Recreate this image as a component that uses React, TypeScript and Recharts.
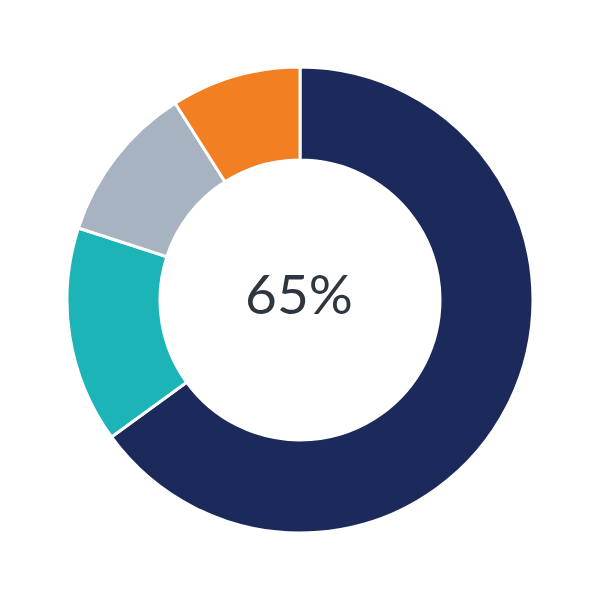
import React from "react";
import { PieChart, Pie, Cell } from "recharts";

const categories = ["A", "B", "C", "D"];
const values = [65, 15, 11, 9];
const colors = ["#1B2A5A", "#1CB4B7", "#A8B3C1", "#F27F22"];
const centerLabel = "65%";

const data = categories.map((name, i) => ({ name, value: values[i] }));

export default function App() {
  return (
    <div style={{ position: "absolute", left: 0, top: 0, width: 600, height: 600, background: "#fff" }}>
      <PieChart width={600} height={600}>
        <Pie
          data={data}
          dataKey="value"
          nameKey="name"
          cx={295}
          cy={295}
          innerRadius={140}
          outerRadius={233}
          startAngle={90}
          endAngle={-270}
          stroke="#ffffff"
          strokeWidth={3}
          isAnimationActive={false}
        >
          {data.map((d, i) => (
            <Cell key={d.name} fill={colors[i]} />
          ))}
        </Pie>
        <text
          x={299}
          y={293}
          textAnchor="middle"
          dominantBaseline="central"
          fontFamily="Lato"
          fontWeight={400}
          fontSize={55}
          fill="#2E3740"
        >
          {centerLabel}
        </text>
      </PieChart>
    </div>
  );
}
